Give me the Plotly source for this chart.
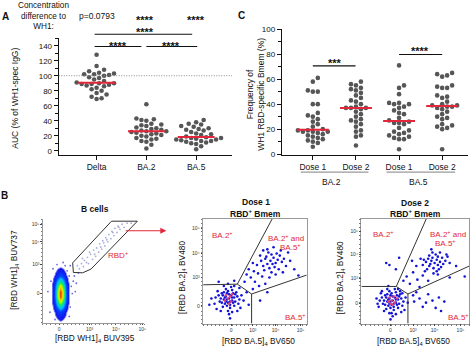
import statistics
import plotly.graph_objects as go

W, H = 474, 353
FONT = "Arial, 'Liberation Sans', sans-serif"
RED = "#e3263a"
DOT = "#565656"

# ---------------- Panel A data ----------------
A_groups = ["Delta", "BA.2", "BA.5"]
A_delta = [128, 113, 108, 106, 104, 103, 102, 102, 101, 100, 98, 97, 95, 93, 91,
           90, 90, 89, 89, 88, 87, 86, 84, 82, 80, 77, 75, 72, 70, 69]
A_ba2 = [62, 43, 42, 41, 40, 36, 35, 34, 33, 31, 30, 29, 28, 27, 26,
         26, 25, 24, 23, 22, 21, 20, 19, 17, 16, 15, 13, 12, 8, 3]
A_ba5 = [41, 38, 36, 35, 33, 32, 30, 29, 28, 27, 25, 23, 22, 21, 19,
         18, 17, 17, 16, 15, 15, 14, 13, 13, 12, 11, 10, 9, 6, 2]
A_ticks = [0, 20, 40, 60, 80, 100, 120, 140]
A_ref_line = 100

# ---------------- Panel C data ----------------
C_ticklabels = ["Dose 1", "Dose 2", "Dose 1", "Dose 2"]
C_variants = ["BA.2", "BA.5"]
C_ba2_d1 = [61, 58, 51, 50, 50, 40, 40, 33, 31, 30, 28, 26, 24, 22, 20,
            19, 19, 18, 18, 18, 17, 16, 15, 14, 13, 12, 11, 10, 9, 6]
C_ba2_d2 = [58, 56, 55, 53, 52, 51, 49, 47, 45, 43, 42, 40, 38, 37, 37,
            37, 36, 34, 32, 30, 28, 27, 26, 24, 22, 19, 18, 15, 14, 7]
C_ba5_d1 = [71, 55, 53, 48, 41, 41, 40, 40, 38, 37, 35, 33, 32, 29, 27,
            26, 25, 25, 24, 21, 19, 18, 17, 16, 15, 14, 13, 12, 12, 4]
C_ba5_d2 = [65, 64, 63, 62, 55, 54, 53, 53, 47, 46, 45, 42, 40, 39, 39,
            38, 38, 37, 36, 34, 32, 30, 29, 28, 24, 23, 22, 21, 20, 4]
C_ticks = [0, 20, 40, 60, 80, 100]

# ---------------- Panel B data (display units 0-100) ----------------
B1_dens_x = [5, 8, 11, 14, 17, 20, 23, 26, 29]
B1_dens_y = [0, 5, 10, 15, 20, 25, 30, 35, 40, 45, 50, 55, 60]
B1_dens_z = [
    [0.00, 0.00, 0.01, 0.03, 0.05, 0.03, 0.01, 0.00, 0.00],
    [0.00, 0.01, 0.04, 0.09, 0.13, 0.09, 0.04, 0.01, 0.00],
    [0.00, 0.02, 0.08, 0.20, 0.28, 0.20, 0.08, 0.02, 0.00],
    [0.00, 0.03, 0.14, 0.38, 0.52, 0.38, 0.14, 0.03, 0.00],
    [0.00, 0.04, 0.22, 0.57, 0.78, 0.57, 0.22, 0.04, 0.00],
    [0.01, 0.05, 0.27, 0.70, 0.97, 0.70, 0.27, 0.05, 0.01],
    [0.01, 0.06, 0.27, 0.71, 0.98, 0.71, 0.27, 0.06, 0.01],
    [0.00, 0.05, 0.23, 0.60, 0.83, 0.60, 0.23, 0.05, 0.00],
    [0.00, 0.03, 0.16, 0.41, 0.57, 0.41, 0.16, 0.03, 0.00],
    [0.00, 0.02, 0.09, 0.23, 0.32, 0.23, 0.09, 0.02, 0.00],
    [0.00, 0.01, 0.04, 0.11, 0.15, 0.11, 0.04, 0.01, 0.00],
    [0.00, 0.00, 0.02, 0.04, 0.06, 0.04, 0.02, 0.00, 0.00],
    [0.00, 0.00, 0.01, 0.01, 0.02, 0.01, 0.01, 0.00, 0.00],
]
B1_rbd_events = [(34, 55), (38, 57), (41, 60), (44, 63), (47, 66), (50, 70), (53, 72), (56, 76),
                 (59, 79), (62, 82), (65, 85), (68, 88), (71, 91), (74, 93), (78, 95), (83, 96),
                 (87, 96), (36, 52), (40, 54), (45, 57), (49, 61), (52, 64), (55, 68), (58, 71),
                 (61, 74), (64, 78), (67, 81), (70, 84), (73, 87), (76, 90), (80, 92), (43, 58),
                 (57, 73), (63, 80), (69, 87), (75, 92), (39, 62), (46, 68), (51, 66), (60, 77)]
B1_halo_events = [(8, 40), (26, 45), (28, 35), (7, 10), (27, 15), (24, 50), (10, 52), (29, 28),
                  (5, 30), (30, 40), (22, 55), (12, 3), (26, 6), (31, 45), (27, 55), (33, 38),
                  (35, 48), (20, 58), (14, 56), (32, 30)]
B1_gate = [(30.1, 48.4), (29.4, 57.7), (67.6, 97.9), (93.1, 97.9), (47.4, 51.6), (39.2, 48.1), (30.1, 48.4)]
B_axis_ticks = ["0", "10³", "10⁴", "10⁵"]

D1_neg = [(25, 24), (22, 26), (28, 22), (24, 20), (27, 27), (20, 23), (30, 25), (23, 29), (26, 18), (19, 27),
          (31, 21), (21, 19), (29, 29), (24, 31), (17, 24), (33, 26), (26, 15), (22, 33), (28, 32), (18, 20),
          (35, 23), (20, 30), (30, 17), (15, 27), (27, 35), (24, 12), (32, 30), (16, 21), (34, 19), (19, 16),
          (23, 23), (26, 21), (25, 28), (21, 25), (28, 25), (23, 17), (29, 20), (18, 29), (31, 28), (22, 21),
          (12, 25), (37, 27), (14, 31), (36, 15), (25, 9), (11, 19), (39, 22), (20, 36), (30, 36), (28, 11),
          (8, 24), (42, 30), (17, 12), (33, 12), (24, 38), (6, 18), (44, 18), (26, 5), (35, 34), (13, 14),
          (30, 41), (40, 40), (15, 40), (62, 30), (55, 22), (48, 33)]
D1_red = [(24, 24), (27, 21), (22, 27), (26, 26), (25, 19), (21, 22), (28, 28)]
D1_pos = [(65, 60), (62, 57), (68, 63), (70, 58), (60, 62), (66, 66), (72, 61), (58, 55), (64, 53), (74, 65),
          (63, 68), (69, 54), (56, 60), (76, 59), (61, 64), (67, 57), (71, 67), (59, 51), (73, 52), (55, 65),
          (78, 62), (66, 49), (52, 56), (62, 71), (75, 70), (49, 50), (80, 55), (57, 45), (70, 47), (46, 44),
          (84, 60), (53, 48), (64, 44), (44, 52), (60, 38), (50, 40), (42, 47), (77, 49), (88, 52), (92, 46),
          (48, 58), (68, 73), (82, 68), (58, 70), (54, 36)]
D1_gates = [[(0, 37.1), (33, 37.7)], [(33, 37.7), (66.6, 100)], [(33, 37.7), (46.8, 28.3)],
            [(46.8, 28.3), (100, 46.4)], [(46.8, 28.3), (46.8, 0)]]

D2_neg = [(29, 22), (26, 24), (32, 20), (28, 18), (31, 25), (24, 21), (34, 23), (27, 27), (30, 16), (23, 25),
          (35, 19), (25, 17), (33, 27), (28, 29), (21, 22), (37, 24), (30, 13), (26, 31), (32, 30), (22, 18),
          (39, 21), (24, 28), (34, 15), (19, 25), (31, 33), (28, 10), (36, 28), (20, 19), (38, 17), (23, 14),
          (27, 21), (30, 19), (29, 26), (25, 23), (32, 23), (27, 15), (33, 18), (22, 27), (35, 26), (26, 19),
          (17, 22), (41, 25), (18, 29), (40, 13), (29, 7), (16, 16), (43, 20), (24, 33), (34, 33), (32, 9),
          (14, 24), (27, 4), (21, 12), (37, 11), (25, 36), (15, 19), (36, 31), (19, 31), (26, 10), (38, 29)]
D2_red = [(28, 22), (31, 20), (26, 25), (30, 26), (29, 18), (25, 21), (33, 24), (27, 19)]
D2_pos = [(68, 58), (65, 60), (71, 56), (66, 63), (70, 61), (63, 55), (73, 59), (67, 53), (62, 62), (75, 63),
          (69, 66), (64, 57), (72, 52), (60, 59), (76, 57), (66, 68), (71, 64), (61, 52), (74, 54), (58, 61),
          (78, 60), (67, 48), (63, 65), (70, 50), (57, 56), (79, 66), (65, 71), (73, 68), (55, 62), (82, 58),
          (23, 58), (35, 63), (42, 45), (51, 55), (45, 38), (39, 41), (57, 46), (26, 56), (32, 52), (52, 42),
          (62, 41), (48, 49), (59, 50), (71, 47), (82, 44), (96, 45), (88, 55), (80, 64), (47, 60), (54, 35),
          (48, 27), (54, 24), (62, 28), (66, 22), (72, 25), (77, 21), (57, 16), (49, 21), (69, 15), (51, 30),
          (60, 20), (74, 12)]
D2_gates = [[(0, 35.5), (32.4, 35.5)], [(32.4, 35.5), (60.2, 100)], [(32.4, 35.5), (43.2, 28.3)],
            [(43.2, 28.3), (100, 54.9)], [(43.2, 28.3), (43.2, 0)]]

# ---------------- layout helpers ----------------
def px_x(p):
    return p / W

def px_y(p):
    return 1 - p / H

def dom_x(a, b):
    return [a / W, b / W]

def dom_y(top, bottom):
    return [1 - bottom / H, 1 - top / H]

A_X = (59, 233); A_Y = (35, 154); A_XR = [-0.76, 2.72]; A_YR = [-5, 150]
C_X = (283, 470); C_Y = (25.7, 154.3); C_XR = [-0.72, 3.6]; C_YR = [-0.5, 100]

def swarm(vals, ypu, xpu, d=5.0):
    idx = sorted(range(len(vals)), key=lambda i: vals[i])
    placed, offs = [], [0.0] * len(vals)
    step = d * 0.5
    for i in idx:
        y = vals[i] * ypu
        k = 0
        while True:
            if k == 0:
                cx = 0.0
            else:
                m = (k + 1) // 2
                cx = m * step if k % 2 == 1 else -m * step
            if all((cx - a) ** 2 + (y - b) ** 2 >= d * d for a, b in placed):
                break
            k += 1
        placed.append((cx, y))
        offs[i] = cx / xpu
    return offs

fig = go.Figure()

def dot_column(vals, center, xa, ya, xr, yr, xdom, ydom):
    xpu = (xdom[1] - xdom[0]) / (xr[1] - xr[0])
    ypu = (ydom[1] - ydom[0]) / (yr[1] - yr[0])
    offs = swarm(vals, ypu, xpu, 5.0)
    fig.add_trace(go.Scatter(x=[center + o for o in offs], y=vals, mode="markers", xaxis=xa, yaxis=ya,
                             marker=dict(size=4.6, color=DOT), showlegend=False, hoverinfo="skip"))
    med = statistics.median(vals)
    fig.add_trace(go.Scatter(x=[center - 0.37, center + 0.37], y=[med, med], mode="lines", xaxis=xa, yaxis=ya,
                             line=dict(color=RED, width=2), showlegend=False, hoverinfo="skip"))

for i, vals in enumerate([A_delta, A_ba2, A_ba5]):
    dot_column(vals, i, "x", "y", A_XR, A_YR, A_X, A_Y)
for i, vals in enumerate([C_ba2_d1, C_ba2_d2, C_ba5_d1, C_ba5_d2]):
    dot_column(vals, i, "x2", "y2", C_XR, C_YR, C_X, C_Y)

# ---------------- flow panels ----------------
RAINBOW = [[0, "rgba(255,255,255,0)"], [0.06, "rgba(255,255,255,0)"], [0.09, "rgb(20,20,235)"],
           [0.3, "rgb(0,70,255)"], [0.45, "rgb(0,200,255)"], [0.6, "rgb(0,225,120)"],
           [0.72, "rgb(140,255,0)"], [0.82, "rgb(255,235,0)"], [0.91, "rgb(255,120,0)"], [1, "rgb(225,0,0)"]]
fig.add_trace(go.Heatmap(x=B1_dens_x, y=B1_dens_y, z=B1_dens_z, xaxis="x3", yaxis="y3", zmin=0, zmax=1,
                         zsmooth="best", colorscale=RAINBOW, showscale=False, hoverinfo="skip"))

def pts(lst, xa, ya, color, size):
    fig.add_trace(go.Scatter(x=[p[0] for p in lst], y=[p[1] for p in lst], mode="markers", xaxis=xa, yaxis=ya,
                             marker=dict(size=size, color=color, line=dict(width=0)), showlegend=False,
                             hoverinfo="skip"))

def poly(segs, xa, ya):
    xs, ys = [], []
    for seg in segs:
        xs += [seg[0][0], seg[1][0], None]
        ys += [seg[0][1], seg[1][1], None]
    fig.add_trace(go.Scatter(x=xs, y=ys, mode="lines", xaxis=xa, yaxis=ya, line=dict(color="#333", width=1),
                             showlegend=False, hoverinfo="skip"))

pts(B1_halo_events, "x3", "y3", "rgba(40,40,220,0.7)", 1.8)
pts(B1_rbd_events, "x3", "y3", "rgba(110,120,190,0.6)", 1.8)
poly([[B1_gate[i], B1_gate[i + 1]] for i in range(len(B1_gate) - 1)], "x3", "y3")

pts(D1_neg, "x4", "y4", "#1414d8", 2.6)
pts(D1_pos, "x4", "y4", "#1414d8", 2.6)
pts(D1_red, "x4", "y4", "#e0407a", 2.6)
poly(D1_gates, "x4", "y4")

pts(D2_neg, "x5", "y5", "#1414d8", 2.6)
pts(D2_pos, "x5", "y5", "#1414d8", 2.6)
pts(D2_red, "x5", "y5", "#e0407a", 2.6)
poly(D2_gates, "x5", "y5")

# ---------------- axes ----------------
def cat_axis(dom, rng, vals, text, anchor):
    return dict(domain=dom, range=rng, tickvals=vals, ticktext=text, anchor=anchor, showline=True,
                linecolor="#111", linewidth=1.2, ticks="outside", ticklen=4, tickwidth=1.2, tickcolor="#111",
                tickfont=dict(size=8.5, color="#111"), showgrid=False, zeroline=False, fixedrange=True)

def val_axis(dom, rng, vals, anchor):
    return dict(domain=dom, range=rng, tickvals=vals, anchor=anchor, showline=True, linecolor="#111",
                linewidth=1.2, ticks="outside", ticklen=4, tickwidth=1.2, tickcolor="#111",
                tickfont=dict(size=8, color="#111"), showgrid=False, zeroline=False, fixedrange=True,
                minor=dict(ticks="outside", ticklen=2.5, dtick=10, tick0=0, tickcolor="#111", tickwidth=1))

def flow_axis(dom, tv, anchor, mirror):
    return dict(domain=dom, range=[0, 100], tickvals=tv, ticktext=B_axis_ticks, anchor=anchor, showline=True,
                linecolor="#999", linewidth=0.8, mirror=mirror, ticks="outside", ticklen=1.5, tickwidth=0.8,
                tickcolor="#444", tickfont=dict(size=5, color="#333"), showgrid=False, zeroline=False,
                fixedrange=True, minor=dict(ticks="outside", ticklen=1.2, dtick=4, tickcolor="#777", tickwidth=0.6))

layout = dict(
    width=W, height=H, margin=dict(l=0, r=0, t=0, b=0), paper_bgcolor="white", plot_bgcolor="white",
    font=dict(family=FONT, color="#111"), showlegend=False,
    xaxis=cat_axis(dom_x(*A_X), A_XR, [0, 1, 2], A_groups, "y"),
    yaxis=val_axis(dom_y(*A_Y), A_YR, A_ticks, "x"),
    xaxis2=cat_axis(dom_x(*C_X), C_XR, [0, 1, 2, 3], C_ticklabels, "y2"),
    yaxis2=val_axis(dom_y(*C_Y), C_YR, C_ticks, "x2"),
    xaxis3=flow_axis(dom_x(43, 145), [16, 46, 72, 98], "y3", False),
    yaxis3=flow_axis(dom_y(220, 326), [28, 56, 78, 95], "x3", False),
    xaxis4=flow_axis(dom_x(204, 308), [27, 48, 70, 94], "y4", True),
    yaxis4=flow_axis(dom_y(220, 327), [17, 44, 67, 91], "x4", True),
    xaxis5=flow_axis(dom_x(363, 471), [27, 48, 68, 92], "y5", True),
    yaxis5=flow_axis(dom_y(220, 327), [19, 43, 66, 88], "x5", True),
)
fig.update_layout(**layout)

# ---------------- shapes ----------------
shapes = [
    dict(type="line", xref="x domain", yref="y", x0=0, x1=1, y0=A_ref_line, y1=A_ref_line,
         line=dict(color="#8a8a8a", width=1, dash="1px,1.5px")),
]
def hline(xref, x0, x1, ypx, color="#111", width=1.1):
    shapes.append(dict(type="line", xref=xref, yref="paper", x0=x0, x1=x1, y0=px_y(ypx), y1=px_y(ypx),
                       line=dict(color=color, width=width)))
hline("x", -0.04, 1.92, 31)
hline("x", -0.04, 0.9, 43.5)
hline("x", 1.0, 2.02, 43.5)
hline("x2", 0, 0.99, 63.3)
hline("x2", 2, 3, 51.7)
hline("x2", -0.28, 1.29, 172, "#9a9a9a", 1.2)
hline("x2", 1.71, 3.3, 172, "#9a9a9a", 1.2)
fig.update_layout(shapes=shapes)

# ---------------- annotations ----------------
ann = []
def txt(text, x, y, size=8.5, color="#111", bold=False, angle=0, xanchor="center"):
    if bold:
        text = "<b>" + text + "</b>"
    ann.append(dict(text=text, x=px_x(x), y=px_y(y), xref="paper", yref="paper", showarrow=False,
                    xanchor=xanchor, yanchor="middle", textangle=angle,
                    font=dict(size=size, color=color, family=FONT)))

txt("A", 0, 13, 10, bold=True, xanchor="left")
txt("Concentration<br>difference to<br>WH1:", 44, 12, 8.2)
txt("p=0.0793", 97, 12.5, 8.5)
for x, y in [(146, 16.5), (197, 16.5), (146, 28.5), (118, 42.5), (172, 42.5)]:
    txt("****", x, y, 11, bold=True)
txt("AUC (% of WH1-spec IgG)", 15, 96, 8.5, angle=-90)

txt("C", 243, 12, 10, bold=True)
txt("***", 336, 60.5, 11, bold=True)
txt("****", 422, 48.5, 11, bold=True)
txt("Frequency of<br>WH1 RBD-specific Bmem (%)", 257, 92, 8.5, angle=-90)
txt(C_variants[0], 333, 182, 8.5)
txt(C_variants[1], 420, 182, 8.5)

txt("B", 5, 196, 10, bold=True)
txt("B cells", 95, 210, 8.5, bold=True)
txt("Dose 1", 257, 203, 8.5, bold=True)
txt("RBD<sup>+</sup> Bmem", 257, 214, 8.5, bold=True)
txt("Dose 2", 417, 204, 8.5, bold=True)
txt("RBD<sup>+</sup> Bmem", 417, 214, 8.5, bold=True)
txt("[RBD WH1]<sub>4</sub> BUV737", 15, 272, 8.3, angle=-90)
txt("[RBD WH1]<sub>4</sub> BUV395", 95, 342, 8.3)
txt("[RBD BA.2]<sub>4</sub> BV480", 183, 280, 8.3, angle=-90)
txt("[RBD BA.5]<sub>4</sub> BV650", 260, 345, 8.3)
txt("[RBD BA.2]<sub>4</sub> BV480", 342, 280, 8.3, angle=-90)
txt("[RBD BA.5]<sub>4</sub> BV650", 415, 345, 8.3)

txt("RBD<sup>+</sup>", 118, 257, 8, RED)
for (x, y, t) in [(223, 236.5, "BA.2<sup>+</sup>"), (287, 239.5, "BA.2<sup>+</sup> and"),
                  (292, 248.5, "BA.5<sup>+</sup>"), (297, 320, "BA.5<sup>+</sup>"),
                  (385, 235, "BA.2<sup>+</sup>"), (450, 235.5, "BA.2<sup>+</sup> and"),
                  (447, 245, "BA.5<sup>+</sup>"), (460, 320, "BA.5<sup>+</sup>")]:
    txt(t, x, y, 8, RED)

ann.append(dict(x=px_x(167), y=px_y(232), xref="paper", yref="paper", ax=-42, ay=0, text="",
                showarrow=True, arrowhead=2, arrowsize=1, arrowwidth=1.2, arrowcolor=RED))
fig.update_layout(annotations=ann)

fig.write_html("out.html")
